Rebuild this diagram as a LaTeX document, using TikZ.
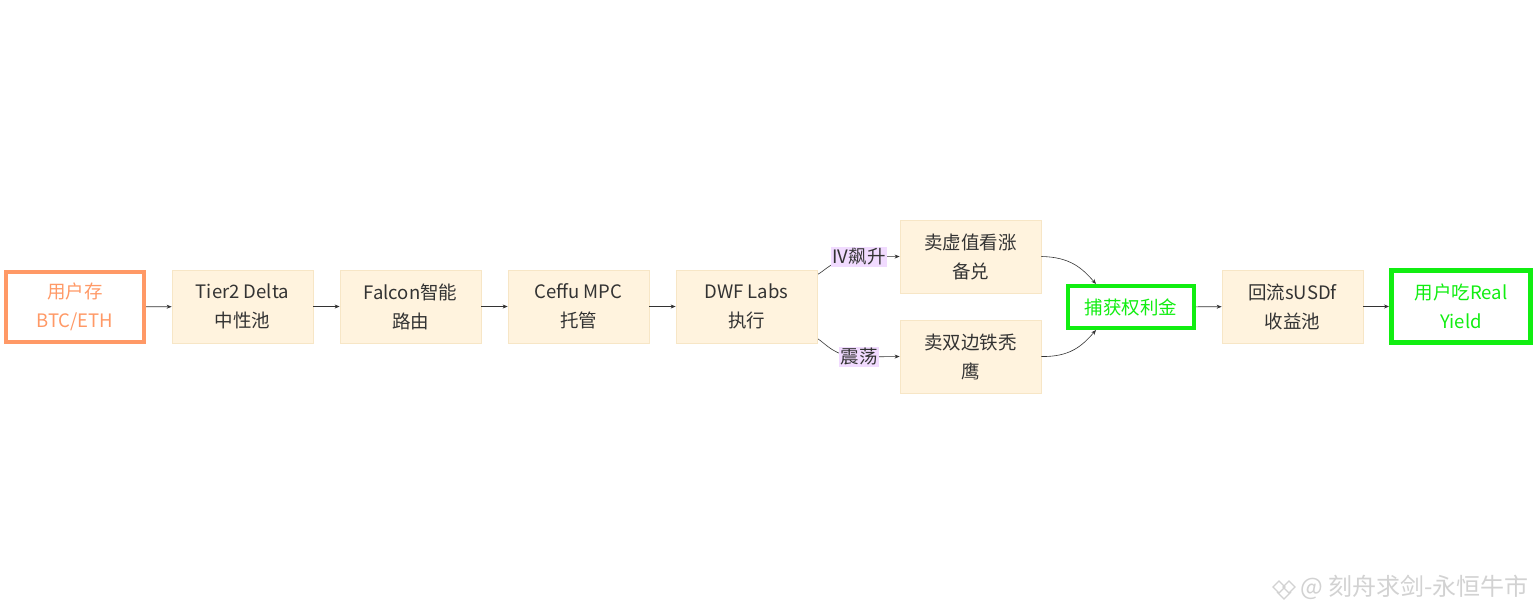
\documentclass[tikz,border=0pt]{standalone}
\usepackage{fontspec}
\setmainfont{Noto Sans CJK SC}
\usetikzlibrary{arrows.meta,backgrounds,calc}
\definecolor{cream}{HTML}{FFF3DE}
\definecolor{creamline}{HTML}{F7E6C6}
\definecolor{orng}{HTML}{FF9966}
\definecolor{grn}{HTML}{11EE11}
\definecolor{lblfill}{HTML}{F1DBFF}
\definecolor{txt}{HTML}{333333}
\definecolor{wm}{HTML}{D2D2D2}
\tikzset{
  stepbox/.style={draw=creamline, fill=cream, line width=0.8pt, minimum width=141, minimum height=73, inner sep=0pt, align=center, text=txt, font=\fontsize{18.5}{29}\selectfont},
  startbox/.style={draw=orng, fill=white, line width=4pt, minimum width=138, minimum height=70, inner sep=0pt, align=center, text=orng, font=\fontsize{18.5}{29}\selectfont},
  goalbox/.style={draw=grn, fill=white, line width=4pt, inner sep=0pt, align=center, text=grn, font=\fontsize{18.5}{29}\selectfont},
  lbl/.style={fill=lblfill, inner sep=1.5pt, text=txt, font=\fontsize{18.5}{21}\selectfont},
  conn/.style={draw=txt, line width=0.6pt},
  arr/.style={conn, -{Stealth[length=5pt,width=4pt]}}
}
\begin{document}
\begin{tikzpicture}[x=1pt,y=-1pt]
\useasboundingbox (0,0) rectangle (1536,614);
\node[startbox] (n1) at (75,307) {用户存\\BTC/ETH};
\node[stepbox] (n2) at (242.5,306.5) {Tier2 Delta\\中性池};
\node[stepbox] (n3) at (410.5,306.5) {Falcon智能\\路由};
\node[stepbox] (n4) at (578.5,306.5) {Ceffu MPC\\托管};
\node[stepbox] (n5) at (746.5,306.5) {DWF Labs\\执行};
\node[stepbox] (n6) at (970.5,256.5) {卖虚值看涨\\备兑};
\node[stepbox] (n7) at (970.5,356.5) {卖双边铁秃\\鹰};
\node[goalbox, minimum width=126, minimum height=42] (n8) at (1131,307) {捕获权利金};
\node[stepbox] (n9) at (1292.5,306.5) {回流sUSDf\\收益池};
\node[goalbox, line width=5pt, minimum width=139, minimum height=72] (n10) at (1461,306.5) {用户吃Real\\Yield};
\node[lbl] (l1) at (859,257) {IV飙升};
\node[lbl] (l2) at (859,357) {震荡};
\coordinate (s1) at ($(n5.east)+(0,-32)$);
\coordinate (s2) at ($(n5.east)+(0,32)$);
\coordinate (t1) at ($(n8.north west)+(30,0)$);
\coordinate (t2) at ($(n8.south west)+(30,0)$);
\begin{scope}[on background layer]
\fill[white] (0,0) rectangle (1536,614);
\draw[conn] (s1) .. controls (825,271) and (835,257) .. (l1.center);
\draw[arr] (l1.center) -- (n6.west);
\draw[conn] (s2) .. controls (825,343) and (835,357) .. (l2.center);
\draw[arr] (l2.center) -- (n7.west);
\end{scope}
\draw[arr] (n1) -- (n2);
\draw[arr] (n2) -- (n3);
\draw[arr] (n3) -- (n4);
\draw[arr] (n4) -- (n5);
\draw[arr] (n6.east) .. controls (1070,257) and (1082,268) .. (t1);
\draw[arr] (n7.east) .. controls (1070,357) and (1082,346) .. (t2);
\draw[arr] (n8) -- (n9);
\draw[arr] (n9) -- (n10);
% watermark
\begin{scope}[draw=wm, line width=1.2pt]
\draw (1273,587) -- (1279,581) -- (1285,587) -- (1279,593) -- cycle;
\draw (1283,587) -- (1289,581) -- (1295,587) -- (1289,593) -- cycle;
\draw (1277,592) -- (1284,599) -- (1291,592);
\end{scope}
\node[text=wm, font=\fontsize{24}{26}\selectfont, anchor=west, inner sep=0pt] (wm) at (1300,587) {@ 刻舟求剑-永恒牛市};
\end{tikzpicture}
\end{document}
